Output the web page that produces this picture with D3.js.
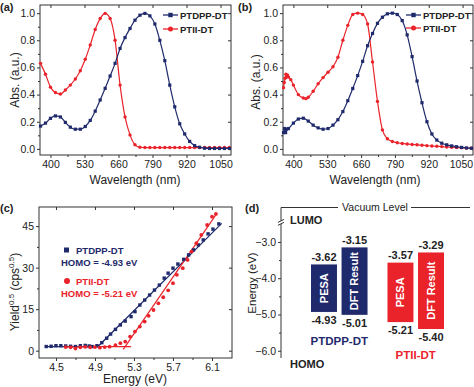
<!DOCTYPE html>
<html><head><meta charset="utf-8">
<script src="https://cdn.jsdelivr.net/npm/d3@7"></script>
<style>
body{margin:0;background:#fff;}
svg{font-family:"Liberation Sans",Arial,sans-serif;}
</style></head>
<body>
<script>
// ---------- DATA ----------
// (a)
const wlA = [362,381,400,419,438,457,476,495,514,533,552,571,590,609,628,647,666,685,704,723,742,761,780,799,818,837,856,875,894,913,932,951,970,989,1008,1027,1046,1065,1084];
const absA_DPP = [0.168,0.19,0.225,0.243,0.235,0.195,0.16,0.145,0.145,0.165,0.21,0.278,0.36,0.446,0.537,0.63,0.74,0.82,0.887,0.948,0.985,0.998,0.98,0.92,0.80,0.65,0.47,0.31,0.185,0.11,0.055,0.024,0.012,0.005,0.003,0.003,0.003,0.003,0.003];
const absA_TII = [0.63,0.55,0.455,0.415,0.404,0.434,0.47,0.515,0.576,0.66,0.765,0.88,0.96,0.998,0.96,0.80,0.47,0.235,0.103,0.03,0.012,0.01,0.01,0.01,0.01,0.01,0.01,0.01,0.01,0.01,0.01,0.01,0.01,0.01,0.01,0.01,0.01,0.01,0.01];
// (b)
const wlB_DPP = [362,366,370,374,381,400,419,438,457,476,495,514,533,552,571,590,609,628,647,666,685,704,723,742,761,780,799,818,837,856,875,894,913,932,951,970,989,1008,1027,1046,1065,1084];
const absB_DPP = [0.12,0.15,0.12,0.145,0.15,0.19,0.22,0.226,0.205,0.175,0.155,0.145,0.15,0.175,0.215,0.275,0.355,0.445,0.54,0.645,0.76,0.85,0.925,0.97,0.995,1.0,0.99,0.945,0.84,0.68,0.5,0.34,0.2,0.11,0.065,0.042,0.03,0.022,0.016,0.011,0.007,0.005];
const wlB_TII = [362,365,368,371,374,377,381,390,400,419,438,448,457,476,495,514,533,552,571,590,609,628,647,666,685,704,723,742,761,780,799,818,837,856,875,894,913,932,951,970,989,1008,1027,1046,1065,1084];
const absB_TII = [0.45,0.49,0.52,0.55,0.53,0.545,0.53,0.51,0.47,0.4,0.375,0.37,0.38,0.425,0.48,0.525,0.565,0.605,0.675,0.8,0.91,0.99,1.0,0.99,0.92,0.64,0.35,0.14,0.075,0.055,0.045,0.04,0.036,0.032,0.03,0.027,0.024,0.021,0.019,0.017,0.014,0.012,0.01,0.008,0.006,0.005];
// (c)
const eDPP = [4.40,4.45,4.50,4.55,4.60,4.65,4.70,4.75,4.80,4.84,4.87,4.92,4.97,5.02,5.06,5.11,5.16,5.21,5.27,5.31,5.36,5.41,5.46,5.51,5.56,5.61,5.65,5.70,5.75,5.81,5.86,5.91,5.96,6.01,6.06,6.11,6.17];
const yDPP = [1.5,1.6,1.8,1.8,1.7,1.6,1.5,1.8,1.9,1.7,1.5,1.8,2.9,4.5,6.0,7.7,9.3,10.7,12.3,14.1,16.5,18.3,20.1,21.9,23.7,26.2,28.0,29.8,31.3,33.0,34.6,36.4,38.2,40.0,42.2,43.9,45.8];
const eTII = [4.60,4.65,4.70,4.75,4.80,4.85,4.90,4.95,5.00,5.05,5.11,5.16,5.21,5.26,5.31,5.36,5.41,5.45,5.50,5.55,5.60,5.65,5.70,5.74,5.80,5.85,5.89,5.94,5.99,6.05,6.10,6.14];
const yTII = [1.3,1.2,0.8,1.2,1.4,1.2,1.3,1.1,1.3,1.45,2.0,2.7,3.3,5.1,6.9,8.7,10.5,12.6,14.7,17.1,19.3,21.8,24.4,27.4,29.8,32.8,35.8,38.8,41.8,45.4,48.4,49.4];
const fitDPP_E = [4.40,4.93,6.20], fitDPP_Y = [1.5,1.5,46.0];
const flatTII_E = [4.58,5.27], flatTII_Y = [1.5,1.5];
const fitTII_E = [5.19,6.15], fitTII_Y = [0.5,49.6];
// (d)
const polymers = ["PTDPP-DT","PTII-DT"];
const methods = ["PESA","DFT Result"];
const lumo = {"PTDPP-DT":[-3.62,-3.15],"PTII-DT":[-3.57,-3.29]};
const homo = {"PTDPP-DT":[-4.93,-5.01],"PTII-DT":[-5.21,-5.40]};
const ticksWl = [400,530,660,790,920,1050];
const ticksAbs = [0.0,0.2,0.4,0.6,0.8,1.0];
const ticksE = [4.5,4.9,5.3,5.7,6.1];
const ticksYield = [0,15,30,45];
const ticksD = [-3.0,-4.0,-5.0,-6.0];

// ---------- DRAW ----------
const NAVY = "#1f2a6c", RED = "#ea232b", INK = "#222";
const svg = d3.select("body").append("svg").attr("width",474).attr("height",387);

function frame(x, y, xt, xm, yt, ym, fx, fy) {
  const [x0,x1] = x.range(), [y0,y1] = y.range();
  const g = svg.append("g");
  const style = s => { s.select(".domain").remove(); s.selectAll("line").attr("stroke","#333");
    s.selectAll("text").attr("font-size","10.5px").attr("fill",INK).attr("font-family","Liberation Sans, Arial, sans-serif"); };
  g.append("g").attr("transform",`translate(0,${y0})`).call(d3.axisBottom(x).tickValues(xt).tickSize(3).tickPadding(3).tickFormat(fx)).call(style);
  g.append("g").attr("transform",`translate(0,${y0})`).call(d3.axisBottom(x).tickValues(xm).tickSize(2).tickFormat("")).call(style);
  g.append("g").attr("transform",`translate(${x0},0)`).call(d3.axisLeft(y).tickValues(yt).tickSize(3).tickPadding(2).tickFormat(fy)).call(style);
  g.append("g").attr("transform",`translate(${x0},0)`).call(d3.axisLeft(y).tickValues(ym).tickSize(2).tickFormat("")).call(style);
  g.append("g").attr("transform",`translate(${x1},0)`).call(d3.axisLeft(y).tickValues(yt).tickSize(3).tickFormat("")).call(style);
  g.append("g").attr("transform",`translate(0,${y1})`).call(d3.axisBottom(x).tickValues(xt).tickSize(3).tickFormat("")).call(style);
  g.append("rect").attr("x",x0).attr("y",y1).attr("width",x1-x0).attr("height",y0-y1)
    .attr("fill","none").attr("stroke","#333").attr("stroke-width",1);
  return g;
}
function minorOf(t){ const out=[]; for(let i=0;i<t.length-1;i++) out.push((t[i]+t[i+1])/2); return out; }

function spectrum(x, y, xs, ys, color, shape) {
  const pts = xs.map((v,i)=>[v,ys[i]]);
  svg.append("path").datum(pts).attr("fill","none").attr("stroke",color).attr("stroke-width",1.2)
    .attr("d", d3.line().x(d=>x(d[0])).y(d=>y(d[1])).curve(d3.curveMonotoneX));
  const g = svg.append("g").attr("fill",color);
  if (shape==="sq") g.selectAll("rect").data(pts).join("rect").attr("x",d=>x(d[0])-1.6).attr("y",d=>y(d[1])-1.6).attr("width",3.2).attr("height",3.2);
  else g.selectAll("circle").data(pts).join("circle").attr("cx",d=>x(d[0])).attr("cy",d=>y(d[1])).attr("r",1.7);
}
function legend(lx, ly, color, shape, label) {
  svg.append("line").attr("x1",lx).attr("x2",lx+15).attr("y1",ly).attr("y2",ly).attr("stroke",color).attr("stroke-width",1.3);
  if (shape==="sq") svg.append("rect").attr("x",lx+7.5-2.2).attr("y",ly-2.2).attr("width",4.4).attr("height",4.4).attr("fill",color);
  else svg.append("circle").attr("cx",lx+7.5).attr("cy",ly).attr("r",2.5).attr("fill",color);
  svg.append("text").attr("x",lx+17).attr("y",ly+3.5).attr("font-size","9.5px").attr("font-weight","bold").attr("fill",INK).text(label);
}
function label(txt, x, y, opts={}) {
  const t = svg.append("text").attr("x",x).attr("y",y).attr("font-size",opts.size||"12px").attr("fill",opts.fill||INK)
    .attr("text-anchor",opts.anchor||"middle").attr("font-weight",opts.bold?"bold":"normal");
  if (opts.rot) t.attr("transform",`rotate(-90,${x},${y})`);
  t.text(txt); return t;
}
const fmt1 = d3.format(".1f");

// (a)
const xA = d3.scaleLinear([360,1090],[40,231]);
const yA = d3.scaleLinear([-0.045,1.06],[155,5]);
frame(xA,yA,ticksWl,minorOf(ticksWl),ticksAbs,minorOf(ticksAbs),d3.format("d"),fmt1);
spectrum(xA,yA,wlA,absA_TII,RED,"ci");
spectrum(xA,yA,wlA,absA_DPP,NAVY,"sq");
legend(163,15,NAVY,"sq","PTDPP-DT");
legend(163,29,RED,"ci","PTII-DT");
label("Abs. (a.u.)",19,80,{rot:true});
label("Wavelength (nm)",135,184);
label("(a)",0,11,{anchor:"start",bold:true,size:"11px"});

// (b)
const xB = d3.scaleLinear([360,1090],[283,473]);
const yB = d3.scaleLinear([-0.045,1.06],[155,5]);
const fb = frame(xB,yB,ticksWl,minorOf(ticksWl),ticksAbs,minorOf(ticksAbs),d3.format("d"),fmt1);
fb.selectAll("text").filter(function(){return this.textContent==="1050";}).attr("text-anchor","end").attr("dx","10px");
spectrum(xB,yB,wlB_TII,absB_TII,RED,"ci");
spectrum(xB,yB,wlB_DPP,absB_DPP,NAVY,"sq");
legend(406,15,NAVY,"sq","PTDPP-DT");
legend(406,28,RED,"ci","PTII-DT");
label("Abs. (a.u.)",260,82,{rot:true});
label("Wavelength (nm)",375,184);
label("(b)",238,11,{anchor:"start",bold:true,size:"11px"});

// (c)
const xC = d3.scaleLinear([4.326,6.305],[39,232]);
const yC = d3.scaleLinear([-2.64,51.9],[358,207]);
frame(xC,yC,ticksE,minorOf(ticksE),ticksYield,minorOf(ticksYield),fmt1,d3.format("d"));
const ln = (xs,ys,c)=> svg.append("path").datum(xs.map((v,i)=>[v,ys[i]])).attr("fill","none").attr("stroke",c).attr("stroke-width",1.2)
   .attr("d",d3.line().x(d=>xC(d[0])).y(d=>yC(d[1])));
ln(fitDPP_E,fitDPP_Y,NAVY);
ln(flatTII_E,flatTII_Y,RED);
ln(fitTII_E,fitTII_Y,RED);
svg.append("g").attr("fill",NAVY).selectAll("rect").data(eDPP.map((v,i)=>[v,yDPP[i]])).join("rect")
  .attr("x",d=>xC(d[0])-1.7).attr("y",d=>yC(d[1])-1.7).attr("width",3.4).attr("height",3.4);
svg.append("g").attr("fill",RED).selectAll("circle").data(eTII.map((v,i)=>[v,yTII[i]])).join("circle")
  .attr("cx",d=>xC(d[0])).attr("cy",d=>yC(d[1])).attr("r",1.9);
svg.append("rect").attr("x",64).attr("y",247.5).attr("width",5).attr("height",5).attr("fill",NAVY);
label("PTDPP-DT",76,253.5,{anchor:"start",bold:true,size:"9.5px",fill:NAVY});
label("HOMO = -4.93 eV",61,266,{anchor:"start",bold:true,size:"9.5px",fill:NAVY});
svg.append("circle").attr("cx",67).attr("cy",281).attr("r",3).attr("fill",RED);
label("PTII-DT",76,284.5,{anchor:"start",bold:true,size:"9.5px",fill:RED});
label("HOMO = -5.21 eV",61,297,{anchor:"start",bold:true,size:"9.5px",fill:RED});
const yt = svg.append("text").attr("transform","rotate(-90,19,292)").attr("x",19).attr("y",292)
  .attr("text-anchor","middle").attr("font-size","12px").attr("fill",INK);
yt.append("tspan").text("Yield");
yt.append("tspan").attr("font-size","8px").attr("dy",-5).text("0.5");
yt.append("tspan").attr("dy",5).text(" (cps");
yt.append("tspan").attr("font-size","8px").attr("dy",-5).text("0.5");
yt.append("tspan").attr("dy",5).text(")");
label("Energy (eV)",135,383);
label("(c)",0,212,{anchor:"start",bold:true,size:"11px"});

// (d)
const yD = d3.scaleLinear([-6.2,-2.05],[358,207.5]);
const xD = d3.scaleBand(polymers,[311,444]).paddingInner(0.261);
const xM = d3.scaleBand(methods,[0,xD.bandwidth()]).paddingInner(0.15);
const axX = 281;
svg.append("line").attr("x1",axX).attr("x2",axX).attr("y1",yD.range()[1]).attr("y2",yD.range()[0]).attr("stroke","#333");
svg.append("g").attr("transform",`translate(${axX},0)`)
  .call(d3.axisLeft(yD).tickValues(ticksD).tickSize(3).tickPadding(2).tickFormat(fmt1))
  .call(s=>{s.select(".domain").remove(); s.selectAll("line").attr("stroke","#333"); s.selectAll("text").attr("font-size","10.5px").attr("fill",INK);});
svg.append("g").attr("transform",`translate(${axX},0)`).call(d3.axisLeft(yD).tickValues([-3.5,-4.5,-5.5]).tickSize(2).tickFormat(""))
  .call(s=>{s.select(".domain").remove(); s.selectAll("line").attr("stroke","#333");});
// axis break
svg.append("rect").attr("x",axX-2).attr("y",yD(-2.42)).attr("width",4).attr("height",3).attr("fill","#fff");
[-2.42,-2.5].forEach(v=> svg.append("line").attr("x1",axX-3).attr("x2",axX+3).attr("y1",yD(v)+1.5).attr("y2",yD(v)-1.5).attr("stroke","#333"));
// vacuum level
const vy = yD.range()[1];
svg.append("line").attr("x1",axX).attr("x2",338).attr("y1",vy).attr("y2",vy).attr("stroke","#333");
svg.append("line").attr("x1",411).attr("x2",470).attr("y1",vy).attr("y2",vy).attr("stroke","#333");
label("Vacuum Level",375,211,{size:"10.5px"});
label("LUMO",290,224,{anchor:"start",bold:true,size:"11px"});
label("HOMO",290,368,{anchor:"start",bold:true,size:"11px"});
label("Energy (eV)",256,283,{rot:true,size:"11.5px"});
label("(d)",245,212,{anchor:"start",bold:true,size:"11px"});
polymers.forEach((p,pi)=>{
  const col = pi===0?NAVY:RED;
  methods.forEach((m,mi)=>{
    const bx = xD(p)+xM(m), bw = xM.bandwidth();
    const top = yD(lumo[p][mi]), bot = yD(homo[p][mi]);
    svg.append("rect").attr("x",bx).attr("y",top).attr("width",bw).attr("height",bot-top).attr("fill",col);
    const cx = bx+bw/2, cy=(top+bot)/2;
    svg.append("text").attr("x",cx).attr("y",cy).attr("transform",`rotate(-90,${cx},${cy})`).attr("dy","0.36em")
      .attr("text-anchor","middle").attr("font-size","11px").attr("font-weight","bold").attr("fill","#fff").text(m);
    label(lumo[p][mi].toFixed(2),cx,top-3.5,{bold:true,size:"11px"});
    label(homo[p][mi].toFixed(2),cx,bot+12,{bold:true,size:"11px"});
  });
  label(p, xD(p)+xD.bandwidth()/2, pi===0?345:359, {bold:true,size:"11.5px",fill:col});
});
</script>
</body></html>
